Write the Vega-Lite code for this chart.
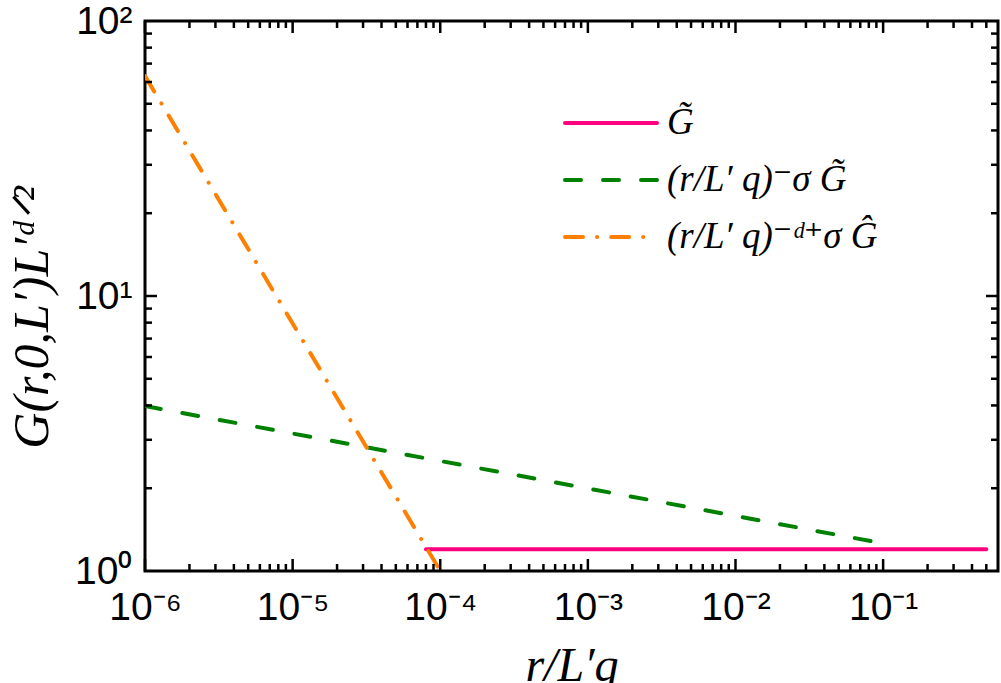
{
  "$schema": "https://vega.github.io/schema/vega-lite/v6.json",
  "width": 853,
  "height": 550,
  "autosize": "none",
  "padding": {"left": 145, "top": 21, "right": 3, "bottom": 112},
  "background": "white",
  "config": {
    "view": {"stroke": "black", "strokeWidth": 3},
    "axis": {
      "domain": false,
      "ticks": false,
      "grid": false,
      "labelFont": "Liberation Sans",
      "labelFontSize": 39,
      "labelColor": "black",
      "labelFlush": false,
      "labelOverlap": false,
      "titleFont": "Liberation Serif, DejaVu Serif, serif",
      "titleFontStyle": "italic",
      "titleFontWeight": "normal",
      "titleColor": "black"
    }
  },
  "datasets": {
    "curves": [
      {"series": "G̃", "x": 8e-5, "y": 1.2},
      {"series": "G̃", "x": 0.5, "y": 1.2},
      {"series": "(r/L′ q)⁻σ G̃", "x": 1e-6, "y": 3.98},
      {"series": "(r/L′ q)⁻σ G̃", "x": 0.1, "y": 1.26},
      {"series": "(r/L′ q)⁻ᵈ⁺σ Ĝ", "x": 1e-6, "y": 63.1},
      {"series": "(r/L′ q)⁻ᵈ⁺σ Ĝ", "x": 1e-4, "y": 1.0}
    ],
    "xticks": [
      {"v": 1e-6, "kind": "major"}, {"v": 2e-6, "kind": "minor"}, {"v": 3e-6, "kind": "minor"}, {"v": 4e-6, "kind": "minor"}, {"v": 5e-6, "kind": "minor"}, {"v": 6e-6, "kind": "minor"}, {"v": 7e-6, "kind": "minor"}, {"v": 8e-6, "kind": "minor"}, {"v": 9e-6, "kind": "minor"},
      {"v": 1e-5, "kind": "major"}, {"v": 2e-5, "kind": "minor"}, {"v": 3e-5, "kind": "minor"}, {"v": 4e-5, "kind": "minor"}, {"v": 5e-5, "kind": "minor"}, {"v": 6e-5, "kind": "minor"}, {"v": 7e-5, "kind": "minor"}, {"v": 8e-5, "kind": "minor"}, {"v": 9e-5, "kind": "minor"},
      {"v": 1e-4, "kind": "major"}, {"v": 2e-4, "kind": "minor"}, {"v": 3e-4, "kind": "minor"}, {"v": 4e-4, "kind": "minor"}, {"v": 5e-4, "kind": "minor"}, {"v": 6e-4, "kind": "minor"}, {"v": 7e-4, "kind": "minor"}, {"v": 8e-4, "kind": "minor"}, {"v": 9e-4, "kind": "minor"},
      {"v": 1e-3, "kind": "major"}, {"v": 2e-3, "kind": "minor"}, {"v": 3e-3, "kind": "minor"}, {"v": 4e-3, "kind": "minor"}, {"v": 5e-3, "kind": "minor"}, {"v": 6e-3, "kind": "minor"}, {"v": 7e-3, "kind": "minor"}, {"v": 8e-3, "kind": "minor"}, {"v": 9e-3, "kind": "minor"},
      {"v": 1e-2, "kind": "major"}, {"v": 2e-2, "kind": "minor"}, {"v": 3e-2, "kind": "minor"}, {"v": 4e-2, "kind": "minor"}, {"v": 5e-2, "kind": "minor"}, {"v": 6e-2, "kind": "minor"}, {"v": 7e-2, "kind": "minor"}, {"v": 8e-2, "kind": "minor"}, {"v": 9e-2, "kind": "minor"},
      {"v": 0.1, "kind": "major"}, {"v": 0.2, "kind": "minor"}, {"v": 0.3, "kind": "minor"}, {"v": 0.4, "kind": "minor"}, {"v": 0.5, "kind": "minor"}
    ],
    "yticks": [
      {"v": 2, "kind": "minor"}, {"v": 3, "kind": "minor"}, {"v": 4, "kind": "minor"}, {"v": 5, "kind": "minor"}, {"v": 6, "kind": "minor"}, {"v": 7, "kind": "minor"}, {"v": 8, "kind": "minor"}, {"v": 9, "kind": "minor"},
      {"v": 10, "kind": "major"}, {"v": 20, "kind": "minor"}, {"v": 30, "kind": "minor"}, {"v": 40, "kind": "minor"}, {"v": 50, "kind": "minor"}, {"v": 60, "kind": "minor"}, {"v": 70, "kind": "minor"}, {"v": 80, "kind": "minor"}, {"v": 90, "kind": "minor"}
    ]
  },
  "layer": [
    {
      "data": {"name": "curves"},
      "mark": {"type": "line", "strokeWidth": 4, "strokeCap": "round", "clip": true},
      "encoding": {
        "x": {
          "field": "x", "type": "quantitative",
          "scale": {"type": "log", "domain": [1e-6, 0.6], "nice": false},
          "axis": {
            "orient": "bottom",
            "title": "r/L′q",
            "titleFontSize": 48,
            "titleBaseline": "alphabetic",
            "titleY": 109,
            "values": [1e-6, 1e-5, 1e-4, 1e-3, 1e-2, 0.1],
            "labelExpr": "'10' + ['⁻⁶','⁻⁵','⁻⁴','⁻³','⁻²','⁻¹','⁰','¹','²'][round(log(datum.value)/LN10)+6]",
            "labelPadding": 17
          }
        },
        "y": {
          "field": "y", "type": "quantitative",
          "scale": {"type": "log", "domain": [1, 100], "nice": false},
          "axis": {
            "orient": "left",
            "title": "G(r,0,L′)L′ᵈᐟ²",
            "titleFontSize": 50,
            "titleBaseline": "alphabetic",
            "titleX": -98,
            "titleY": 296,
            "values": [1, 10, 100],
            "labelExpr": "'10' + ['⁻⁶','⁻⁵','⁻⁴','⁻³','⁻²','⁻¹','⁰','¹','²'][round(log(datum.value)/LN10)+6]",
            "labelPadding": 13
          }
        },
        "color": {
          "field": "series", "type": "nominal",
          "scale": {
            "domain": ["G̃", "(r/L′ q)⁻σ G̃", "(r/L′ q)⁻ᵈ⁺σ Ĝ"],
            "range": ["#FF0080", "#008000", "#FF8000"]
          },
          "legend": {
            "title": null,
            "orient": "none",
            "legendX": 418,
            "legendY": 79,
            "padding": 0,
            "symbolType": "stroke",
            "symbolSize": 8464,
            "symbolStrokeWidth": 4,
            "clipHeight": 46,
            "labelFont": "Liberation Serif, DejaVu Serif, serif",
            "labelFontStyle": "italic",
            "labelFontSize": 37,
            "labelColor": "black",
            "labelOffset": 8,
            "labelLimit": 400,
            "rowPadding": 11,
            "encode": {"symbols": {"update": {"strokeCap": {"value": "round"}}}}
          }
        },
        "strokeDash": {
          "field": "series", "type": "nominal",
          "scale": {
            "domain": ["G̃", "(r/L′ q)⁻σ G̃", "(r/L′ q)⁻ᵈ⁺σ Ĝ"],
            "range": [[1, 0], [16, 22], [18, 14, 0.1, 14]]
          },
          "legend": null
        }
      }
    },
    {
      "data": {"name": "xticks"},
      "transform": [{"filter": "datum.kind == 'major'"}],
      "mark": {"type": "rect", "fill": "#000000", "width": 2.5},
      "encoding": {"x": {"field": "v", "type": "quantitative"}, "y": {"datum": 1}, "y2": {"datum": 1.1058}}
    },
    {
      "data": {"name": "xticks"},
      "transform": [{"filter": "datum.kind == 'minor'"}],
      "mark": {"type": "rect", "fill": "#000000", "width": 2.5},
      "encoding": {"x": {"field": "v", "type": "quantitative"}, "y": {"datum": 1}, "y2": {"datum": 1.0604}}
    },
    {
      "data": {"name": "xticks"},
      "transform": [{"filter": "datum.kind == 'major'"}],
      "mark": {"type": "rect", "fill": "#000000", "width": 2.5},
      "encoding": {"x": {"field": "v", "type": "quantitative"}, "y": {"datum": 100}, "y2": {"datum": 90.43}}
    },
    {
      "data": {"name": "xticks"},
      "transform": [{"filter": "datum.kind == 'minor'"}],
      "mark": {"type": "rect", "fill": "#000000", "width": 2.5},
      "encoding": {"x": {"field": "v", "type": "quantitative"}, "y": {"datum": 100}, "y2": {"datum": 94.3}}
    },
    {
      "data": {"name": "yticks"},
      "transform": [{"filter": "datum.kind == 'major'"}],
      "mark": {"type": "rect", "fill": "#000000", "height": 2.5},
      "encoding": {"y": {"field": "v", "type": "quantitative"}, "x": {"datum": 1e-6}, "x2": {"datum": 1.2055e-6}}
    },
    {
      "data": {"name": "yticks"},
      "transform": [{"filter": "datum.kind == 'minor'"}],
      "mark": {"type": "rect", "fill": "#000000", "height": 2.5},
      "encoding": {"y": {"field": "v", "type": "quantitative"}, "x": {"datum": 1e-6}, "x2": {"datum": 1.1152e-6}}
    },
    {
      "data": {"name": "yticks"},
      "transform": [{"filter": "datum.kind == 'major'"}],
      "mark": {"type": "rect", "fill": "#000000", "height": 2.5},
      "encoding": {"y": {"field": "v", "type": "quantitative"}, "x": {"datum": 0.6}, "x2": {"datum": 0.4977}}
    },
    {
      "data": {"name": "yticks"},
      "transform": [{"filter": "datum.kind == 'minor'"}],
      "mark": {"type": "rect", "fill": "#000000", "height": 2.5},
      "encoding": {"y": {"field": "v", "type": "quantitative"}, "x": {"datum": 0.6}, "x2": {"datum": 0.538}}
    }
  ]
}
